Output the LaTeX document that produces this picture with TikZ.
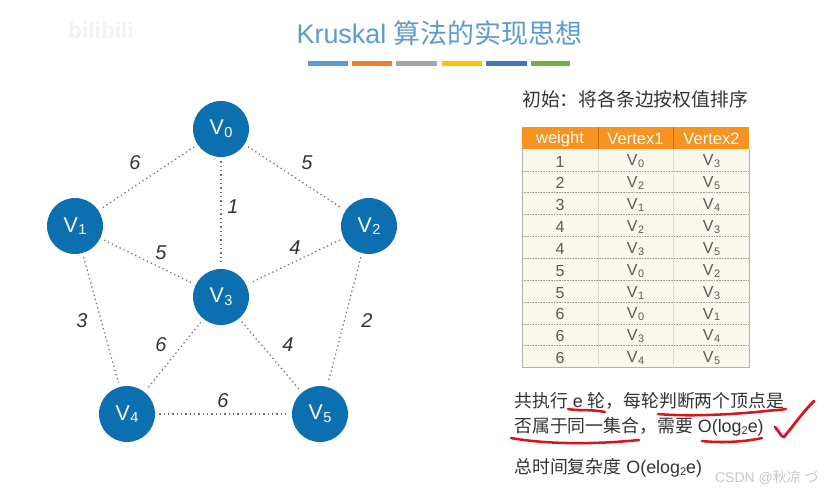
\documentclass[tikz,border=0pt]{standalone}
\usepackage{fontspec}
\setmainfont{Liberation Sans}
\newfontfamily\cjk{Noto Sans CJK SC}
\definecolor{nodeblue}{HTML}{0B6FB0}
\definecolor{titleblue}{HTML}{5B9BD0}
\definecolor{edgegrey}{HTML}{707070}
\definecolor{textgrey}{HTML}{333333}
\definecolor{headorange}{HTML}{F7931E}
\definecolor{rowcream}{HTML}{FAF7EC}
\definecolor{cellgrey}{HTML}{5A5A5A}
\definecolor{inkred}{HTML}{D8141C}
\definecolor{barA}{HTML}{5B9BD5}
\definecolor{barB}{HTML}{ED7D31}
\definecolor{barC}{HTML}{A5A5A5}
\definecolor{barD}{HTML}{FFC000}
\definecolor{barE}{HTML}{4472C4}
\definecolor{barF}{HTML}{70AD47}
\newcommand{\Vx}[1]{V\kern0.03em\raisebox{-0.12em}{\scalebox{0.68}{#1}}}
\tikzset{
  vertex/.style={circle,fill=nodeblue,draw=none,minimum size=56*0.75pt,inner sep=0pt,text=white,font=\fontsize{16}{16}\selectfont},
  link/.style={draw=edgegrey,line width=0.95pt,dash pattern=on 0.95pt off 2.3pt},
  weightlabel/.style={font=\fontsize{15}{15}\selectfont\itshape,text=textgrey,inner sep=0pt},
  body/.style={anchor=west,inner sep=0pt,text=textgrey,font=\fontsize{13.4}{14}\selectfont},
  cell/.style={inner sep=0pt,text=cellgrey,font=\fontsize{12}{12}\selectfont},
  headcell/.style={inner sep=0pt,text=white,font=\fontsize{12.4}{12}\selectfont},
  gridh/.style={draw=black!40,line width=0.4pt,dash pattern=on 0.6pt off 0.6pt},
  gridv/.style={draw=black!20,line width=0.4pt,dash pattern=on 0.6pt off 0.6pt},
  ink/.style={draw=inkred,line width=1.9pt,line cap=round,line join=round},
}
\begin{document}
\begin{tikzpicture}[x=0.75pt,y=-0.75pt]
\useasboundingbox (0,0) rectangle (832,494);
% watermarks
\node[inner sep=0pt,text=black!5,font=\fontsize{17}{17}\selectfont\bfseries] (wmark) at (101,30) {bilibili};
\node[anchor=east,inner sep=0pt,text=black!22,font=\fontsize{10.5}{11}\selectfont] (csdn) at (819,478) {CSDN @{\cjk 秋凉} {\cjk づ}};
% title
\node[inner sep=0pt,text=titleblue,font=\fontsize{20.2}{20}\selectfont] (title) at (439.5,33) {Kruskal {\cjk 算法的实现思想}};
\fill[barA] (308,61) rectangle (348,66);
\fill[barB] (352,61) rectangle (392,66);
\fill[barC] (396,61) rectangle (437,66);
\fill[barD] (442,61) rectangle (482,66);
\fill[barE] (486,61) rectangle (527,66);
\fill[barF] (531,61) rectangle (570,66);
% graph
\node[vertex] (v0) at (221,129) {\Vx{0}};
\node[vertex] (v1) at (75,226) {\Vx{1}};
\node[vertex] (v2) at (369,226) {\Vx{2}};
\node[vertex] (v3) at (221,297) {\Vx{3}};
\node[vertex] (v4) at (127,414) {\Vx{4}};
\node[vertex] (v5) at (320,414) {\Vx{5}};
\foreach \a/\b in {v0/v1,v0/v2,v0/v3,v1/v3,v2/v3,v1/v4,v2/v5,v3/v4,v3/v5,v4/v5}
  \draw[link,shorten >=3pt,shorten <=3pt] (\a) -- (\b);
\node[weightlabel] (w1) at (135,163) {6};
\node[weightlabel] (w2) at (307,163) {5};
\node[weightlabel] (w3) at (233,207) {1};
\node[weightlabel] (w4) at (161,253) {5};
\node[weightlabel] (w5) at (295,248) {4};
\node[weightlabel] (w6) at (82,321) {3};
\node[weightlabel] (w7) at (367,321) {2};
\node[weightlabel] (w8) at (161,345) {6};
\node[weightlabel] (w9) at (288,345) {4};
\node[weightlabel] (w10) at (223,401) {6};
% heading text
\node[body,font=\fontsize{14.1}{14}\selectfont] (init) at (522,99) {\cjk 初始：将各条边按权值排序};
% table
\fill[rowcream] (522,149) rectangle (749,367.5);
\fill[headorange] (522,127) rectangle (749,149);
\draw[draw=black!30,line width=0.6pt] (522,149) -- (522,367.5) -- (749,367.5) -- (749,149);
\draw[draw=orange!80!black,line width=0.5pt] (598,127) -- (598,149) (673,127) -- (673,149);
\foreach \i in {1,...,9} \draw[gridh] (522,149+\i*21.85) -- (749,149+\i*21.85);
\draw[gridv] (598,149) -- (598,367.5) (673,149) -- (673,367.5);
\node[headcell] (h1) at (560,139) {weight};
\node[headcell] (h2) at (635.5,139) {Vertex1};
\node[headcell] (h3) at (711.5,139) {Vertex2};
\foreach \i/\w/\p/\q in {0/1/0/3,1/2/2/5,2/3/1/4,3/4/2/3,4/4/3/5,5/5/0/2,6/5/1/3,7/6/0/1,8/6/3/4,9/6/4/5}{
  \node[cell] (a\i) at (560,161.5+\i*21.85) {\w};
  \node[cell] (c\i) at (635.5,161.5+\i*21.85) {\Vx{\p}};
  \node[cell] (d\i) at (711.5,161.5+\i*21.85) {\Vx{\q}};
}
% notes
\node[body] (n1) at (514,401) {{\cjk 共执行} e {\cjk 轮，每轮判断两个顶点是}};
\node[body] (n2) at (514,427) {{\cjk 否属于同一集合，需要} O(log\raisebox{-0.12em}{\scalebox{0.62}{2}}e)};
\node[body] (n3) at (514,468) {{\cjk 总时间复杂度} O(elog\raisebox{-0.12em}{\scalebox{0.62}{2}}e)};
% red handwriting
\coordinate (r1a) at (568,409); \coordinate (r1b) at (605,412);
\draw[ink] (r1a) .. controls (578,411) and (590,409) .. (r1b);
\coordinate (r2a) at (658,414); \coordinate (r2b) at (786,409);
\draw[ink] (r2a) .. controls (690,417) and (740,414) .. (766,411) .. controls (775,410) and (780,410) .. (r2b);
\coordinate (r3a) at (511,438); \coordinate (r3b) at (639,440);
\draw[ink] (r3a) .. controls (550,445) and (600,444) .. (r3b);
\coordinate (r4a) at (702,441); \coordinate (r4b) at (762,438);
\draw[ink] (r4a) .. controls (720,443) and (745,442) .. (r4b);
\coordinate (c1) at (775,427); \coordinate (c2) at (784,437); \coordinate (c3) at (814,401);
\draw[ink,line width=2.1pt] (c1) .. controls (779,431) and (781,437) .. (c2) .. controls (790,430) and (802,413) .. (c3);
\end{tikzpicture}
\end{document}
